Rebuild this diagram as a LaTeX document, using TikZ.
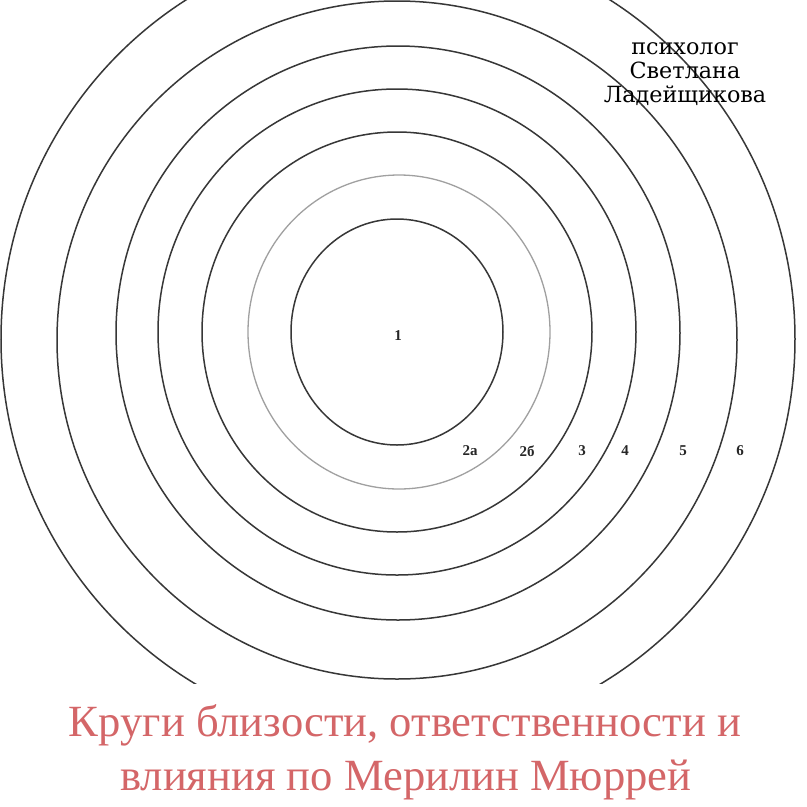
\documentclass[tikz,border=0pt]{standalone}
\usepackage{fontspec}
\setmainfont{Liberation Serif}
\newfontfamily\authorfont{DejaVu Serif}
\definecolor{ringdark}{RGB}{55,55,55}
\definecolor{ringlight}{RGB}{160,160,160}
\definecolor{titlered}{RGB}{212,102,104}
\begin{document}
\begin{tikzpicture}[x=1pt,y=-1pt,
  ring/.style={draw=ringdark,line width=1.5pt},
  ringsoft/.style={draw=ringlight,line width=1.3pt},
  zonelabel/.style={inner sep=0pt,font=\bfseries\fontsize{15}{15}\selectfont,text=black!85},
  authortext/.style={inner sep=0pt,anchor=base,font=\authorfont\fontsize{22.3}{22.3}\selectfont,text=black},
  titletext/.style={inner sep=0pt,anchor=base,font=\fontsize{44.6}{44.6}\selectfont,text=titlered}]
\fill[white] (0,0) rectangle (807,807);
\useasboundingbox (0,0) rectangle (807,807);
\begin{scope}
  \clip (0,0) rectangle (807,683);
  \draw[ring]     (397,332)   ellipse [x radius=106pt, y radius=113pt];
  \draw[ringsoft] (399,332)   ellipse [x radius=151pt, y radius=157pt];
  \draw[ring]     (397,332)   ellipse [x radius=195pt, y radius=200pt];
  \draw[ring]     (397,332)   ellipse [x radius=239pt, y radius=243pt];
  \draw[ring]     (398,333)   ellipse [x radius=282pt, y radius=287pt];
  \draw[ring]     (397,340)   ellipse [x radius=340pt, y radius=339pt];
  \draw[ring]     (398,339)   ellipse [x radius=397pt, y radius=401pt];
\end{scope}
\node[zonelabel] (z1)  at (398,336) {1};
\node[zonelabel] (z2a) at (470,451) {2а};
\node[zonelabel] (z2b) at (527,451) {2б};
\node[zonelabel] (z3)  at (582,451) {3};
\node[zonelabel] (z4)  at (625,451) {4};
\node[zonelabel] (z5)  at (683,451) {5};
\node[zonelabel] (z6)  at (740,451) {6};
\node[authortext] (auth1) at (685,54)  {психолог};
\node[authortext] (auth2) at (685,78)  {Светлана};
\node[authortext] (auth3) at (685,102) {Ладейщикова};
\node[titletext] (title1) at (405,736) {Круги близости, ответственности и};
\node[titletext] (title2) at (406,790) {влияния по Мерилин Мюррей};
\end{tikzpicture}
\end{document}
